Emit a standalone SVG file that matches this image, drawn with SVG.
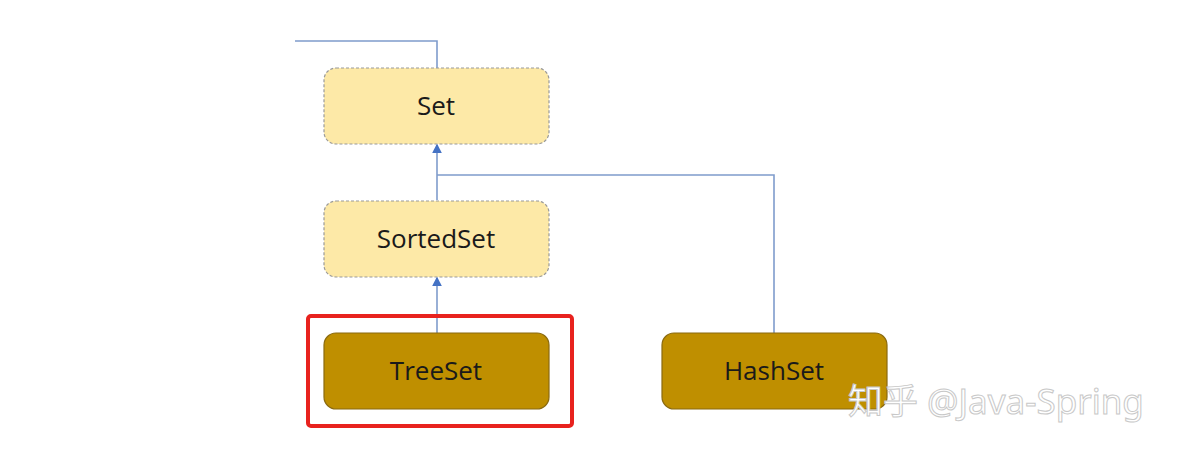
<svg xmlns="http://www.w3.org/2000/svg" width="1186" height="454" viewBox="0 0 1186 454">
<style>
.light{fill:#fde9a7;stroke:#9a9a9a;stroke-width:1.2;stroke-dasharray:3 2}
.dark{fill:#bf8f00;stroke:#8a6a10;stroke-width:1.2}
.t{font-family:"Open Sans","Liberation Sans",sans-serif;font-size:26px;fill:#1a1a1a;text-anchor:middle;dominant-baseline:central}
.c{fill:none;stroke:#7f9ccc;stroke-width:1.6}
</style>
<defs><marker id="a" markerWidth="6" markerHeight="6" refX="5" refY="3" orient="auto"><path d="M0,0 L6,3 L0,6 Z" fill="#4472c4"/></marker></defs>
<rect width="1186" height="454" fill="#fff"/>
<g id="connectors">
<path class="c" d="M295,41 H437 V68"/>
<path class="c" d="M437,200 V145" marker-end="url(#a)"/>
<path class="c" d="M437,175 H774 V333"/>
<path class="c" d="M437,333 V278" marker-end="url(#a)"/>
</g>
<g id="set"><rect class="light" x="324" y="68" width="225" height="76" rx="12"/><text class="t" x="436" y="105">Set</text></g>
<g id="sortedset"><rect class="light" x="324" y="201" width="225" height="76" rx="12"/><text class="t" x="436" y="238">SortedSet</text></g>
<g id="treeset"><rect class="dark" x="324" y="333" width="225" height="76" rx="12"/><text class="t" x="436" y="370">TreeSet</text></g>
<rect x="308" y="316" width="264" height="110" fill="none" stroke="#e8221e" stroke-width="4" rx="3"/>
<g id="hashset"><rect class="dark" x="662" y="333" width="225" height="76" rx="12"/><text class="t" x="774" y="370">HashSet</text></g>
<text x="848" y="414" font-family="'Noto Sans','Noto Sans CJK SC',sans-serif" font-size="35" fill="#ffffff" stroke="#c8c8c8" stroke-width="1">知乎 @Java-Spring</text>
</svg>
